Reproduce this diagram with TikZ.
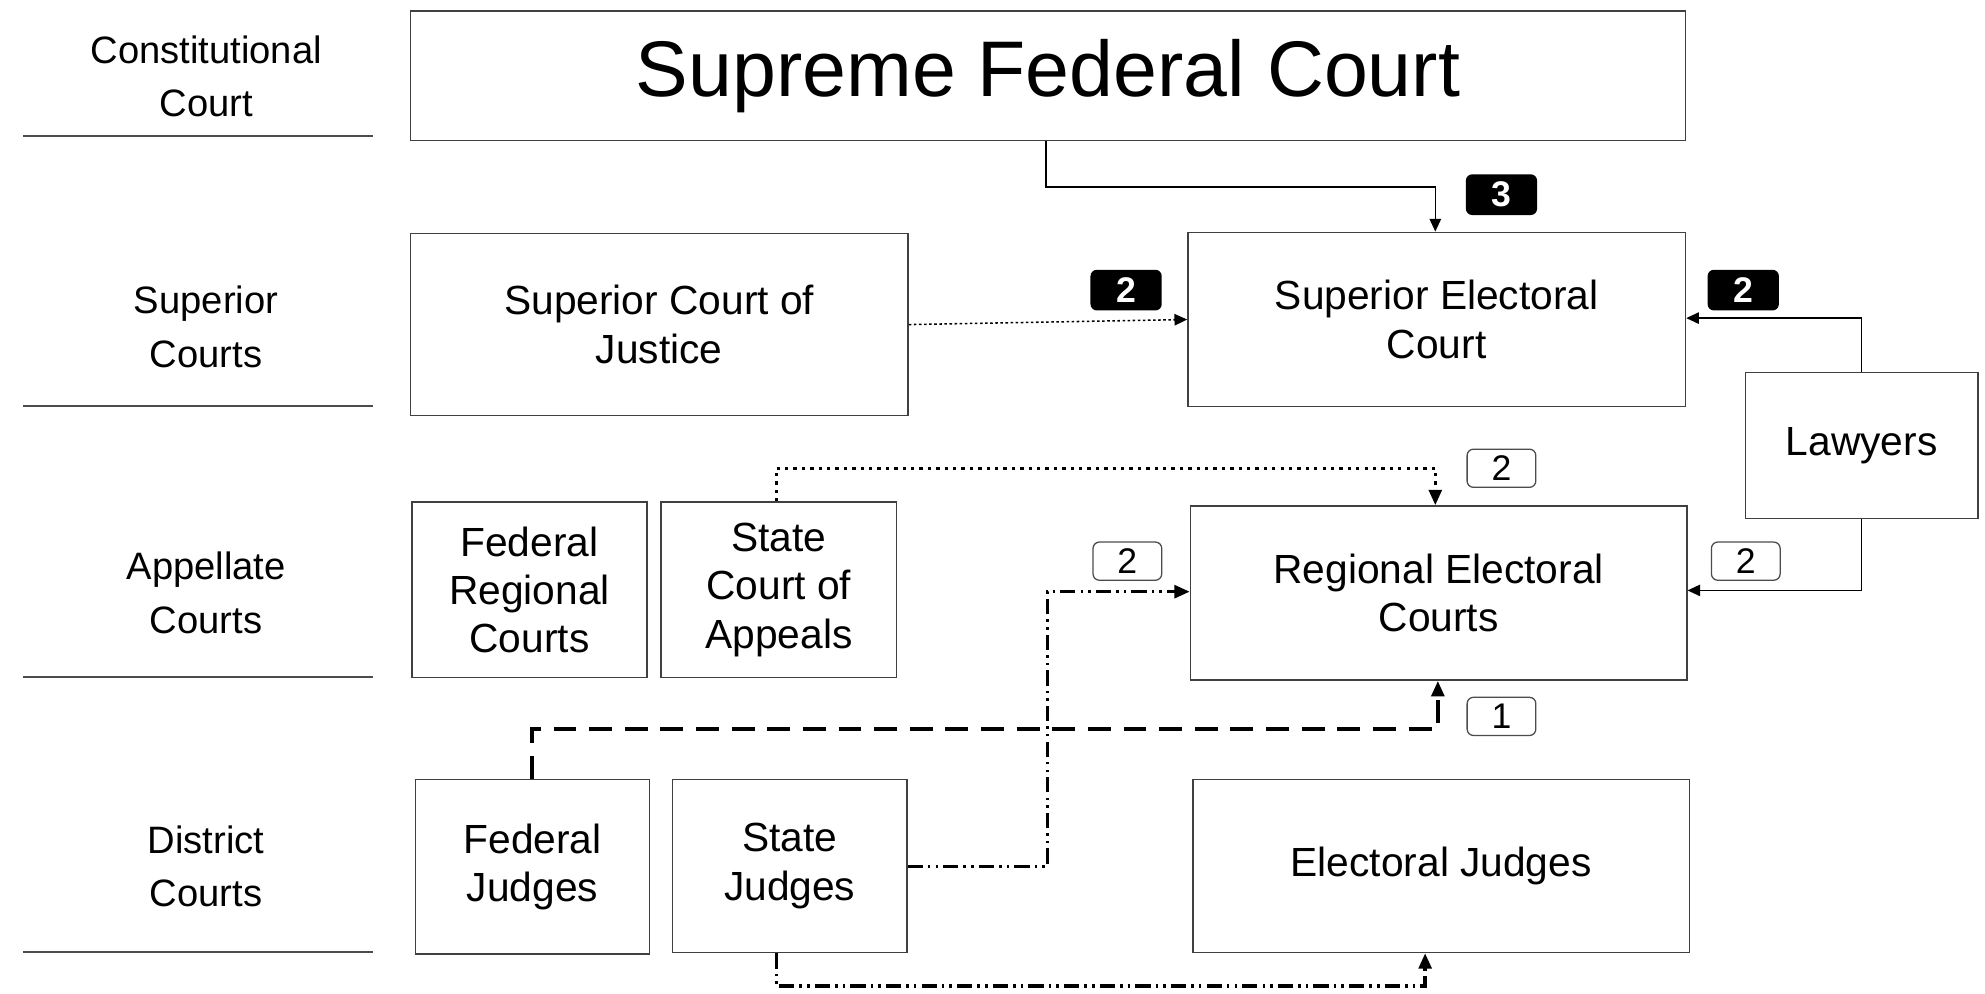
\documentclass[tikz,border=0pt]{standalone}
\usepackage{fontspec}
\setmainfont{Liberation Sans}
\usetikzlibrary{arrows.meta}
\begin{document}
\begin{tikzpicture}[x=0.5pt,y=-0.5pt,
 box/.style={draw=black!75,line width=0.6pt,align=center,font=\fontsize{16}{19}\selectfont,anchor=north west,inner sep=0pt},
 lbl/.style={align=center,font=\fontsize{15}{21}\selectfont},
 bk/.style={fill=black,rounded corners=2.5pt,text=white,font=\bfseries\fontsize{14}{14}\selectfont,minimum width=28pt,minimum height=16pt,inner sep=0pt},
 wh/.style={draw=black!70,fill=white,rounded corners=2.5pt,font=\fontsize{14}{14}\selectfont,minimum width=27pt,minimum height=15pt,inner sep=0pt,line width=0.5pt},
 con/.style={line width=0.6pt,-{Triangle[length=5pt,width=4.5pt]}},
 thick con/.style={line width=1.3pt,-{Triangle[length=6pt,width=5pt]}},
 ddot/.style={dash pattern=on 6pt off 2pt on 1pt off 2pt on 1pt off 2pt}]
\useasboundingbox (0,0) rectangle (1560,781);
\fill[white] (0,0) rectangle (1560,781);
% left labels
\node[lbl] (l1) at (162,60) {Constitutional\\Court};
\node[lbl] (l2) at (162,257) {Superior\\Courts};
\node[lbl] (l3) at (162,466) {Appellate\\Courts};
\node[lbl] (l4) at (162,681) {District\\Courts};
\foreach \y in {107,319,532,748} \draw[black!70,line width=0.6pt] (18,\y) -- (293,\y);
% boxes
\node[box,minimum width=501pt,minimum height=51pt,font=\fontsize{31}{31}\selectfont] (sfc) at (322,8) {Supreme Federal Court};
\node[box,minimum width=195.5pt,minimum height=71.5pt] (scj) at (322,183) {Superior Court of\\Justice};
\node[box,minimum width=195.5pt,minimum height=68.5pt] (sec) at (933,182) {Superior Electoral\\Court};
\node[box,minimum width=91.5pt,minimum height=57.5pt] (law) at (1371,292) {Lawyers};
\node[box,minimum width=92.5pt,minimum height=69pt] (frc) at (323,394) {Federal\\Regional\\Courts};
\node[box,minimum width=92.5pt,minimum height=69pt] (sca) at (519,394) {State\\Court of\\Appeals};
\node[box,minimum width=195pt,minimum height=68.5pt] (rec) at (935,397) {Regional Electoral\\Courts};
\node[box,minimum width=92pt,minimum height=68.5pt] (fj) at (326,612) {Federal\\Judges};
\node[box,minimum width=92pt,minimum height=68pt] (sj) at (528,612) {State\\Judges};
\node[box,minimum width=195pt,minimum height=68pt] (ej) at (937,612) {Electoral Judges};
% badges
\node[bk] (b3) at (1180,153) {3};
\node[bk] (b2a) at (885,228) {2};
\node[bk] (b2b) at (1370,228) {2};
\node[wh] (w2a) at (1180,368) {2};
\node[wh] (w2b) at (1372,441) {2};
\node[wh] (w2c) at (886,441) {2};
\node[wh] (w1) at (1180,563) {1};
% connectors
\coordinate (c1) at (822,147); \coordinate (c2) at (1128,147);
\draw[con] (sfc.south -| c1) -- (c1) -- (c2) -- (sec.north -| c2);
\draw[con,dash pattern=on 1pt off 1pt] (scj.east) -- (sec.west);
\coordinate (c3) at (1463,250);
\draw[con] (law.north -| c3) -- (c3) -- (sec.east |- c3);
\coordinate (c4) at (610,368); \coordinate (c5) at (1128,368);
\draw[thick con,dotted] (sca.north -| c4) -- (c4) -- (c5) -- (rec.north -| c5);
\coordinate (c6) at (1463,464);
\draw[con] (law.south -| c6) -- (c6) -- (rec.east |- c6);
\coordinate (c7) at (823,681); \coordinate (c8) at (823,465);
\draw[thick con,ddot] (sj.east |- c7) -- (c7) -- (c8) -- (rec.west |- c8);
\coordinate (c9) at (418,573); \coordinate (c10) at (1130,573);
\draw[thick con,dash pattern=on 9pt off 5pt] (fj.north -| c9) -- (c9) -- (c10) -- (rec.south -| c10);
\coordinate (c11) at (610,775); \coordinate (c12) at (1120,775);
\draw[thick con,ddot] (sj.south -| c11) -- (c11) -- (c12) -- (ej.south -| c12);
\end{tikzpicture}
\end{document}
